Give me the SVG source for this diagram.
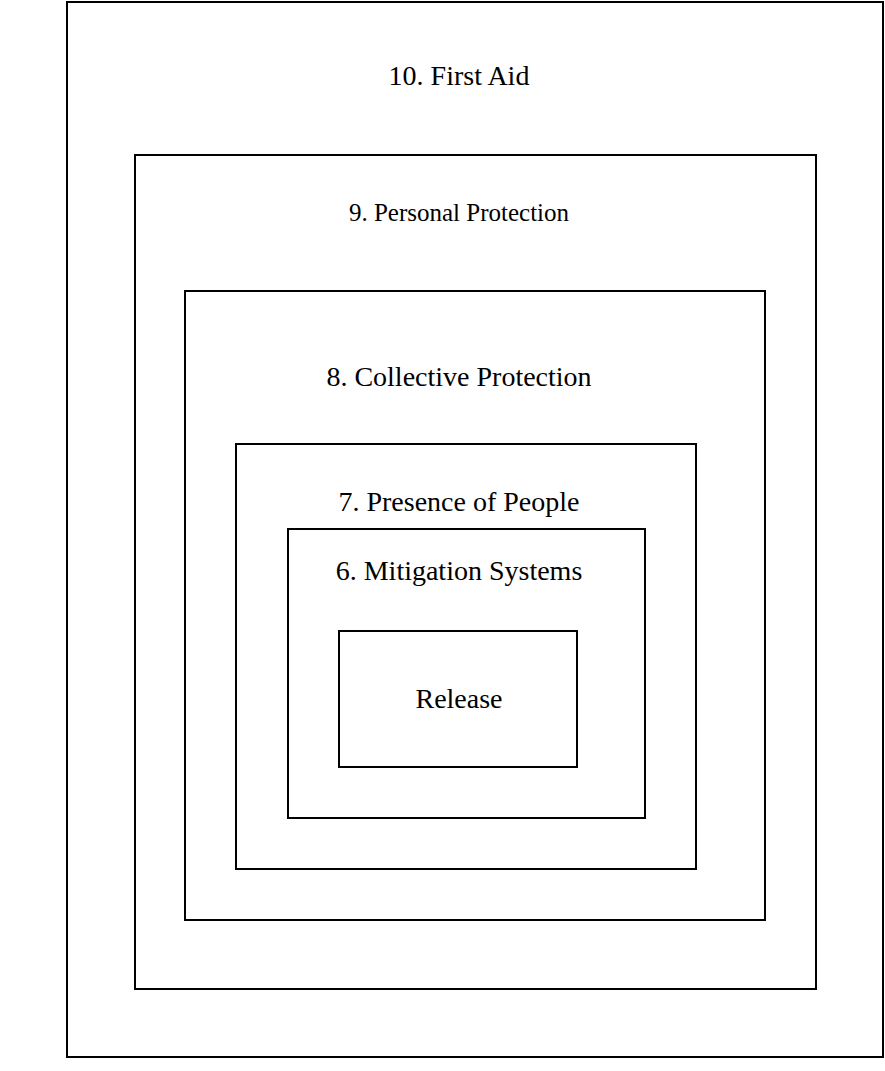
<svg xmlns="http://www.w3.org/2000/svg" width="885" height="1071" viewBox="0 0 885 1071">
<style>
rect{fill:none;stroke:#000;stroke-width:2}
text{font-family:"Liberation Serif",serif;text-anchor:middle;fill:#000}
</style>
<rect x="0" y="0" width="885" height="1071" style="fill:#fff;stroke:none"/>
<g id="n10"><rect x="67" y="2" width="816" height="1055"/><text x="459" y="85" font-size="28">10. First Aid</text></g>
<g id="n9"><rect x="135" y="155" width="681" height="834"/><text x="459" y="221" font-size="25">9. Personal Protection</text></g>
<g id="n8"><rect x="185" y="291" width="580" height="629"/><text x="459" y="386" font-size="28">8. Collective Protection</text></g>
<g id="n7"><rect x="236" y="444" width="460" height="425"/><text x="459" y="511" font-size="28">7. Presence of People</text></g>
<g id="n6"><rect x="288" y="529" width="357" height="289"/><text x="459" y="580" font-size="28">6. Mitigation Systems</text></g>
<g id="release"><rect x="339" y="631" width="238" height="136"/><text x="459" y="708" font-size="28">Release</text></g>
<g id="connectors"/>
</svg>
